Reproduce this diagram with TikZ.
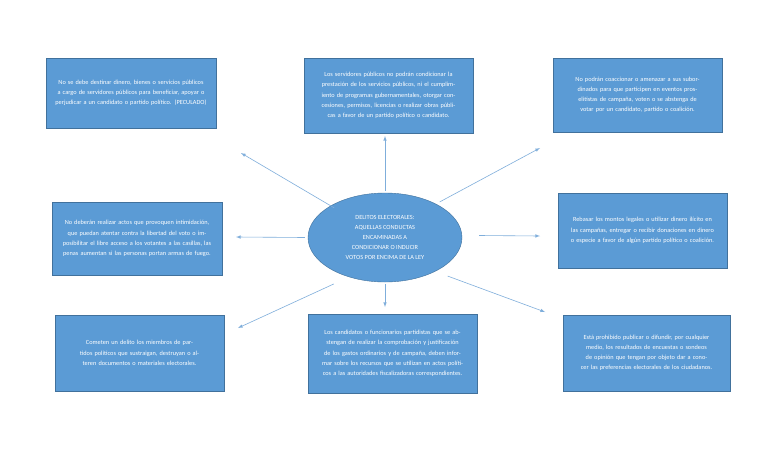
\documentclass[tikz,border=0pt]{standalone}
\usepackage{fontspec}
\setmainfont{Carlito}
\usetikzlibrary{shapes.geometric}
\definecolor{bfill}{HTML}{5B9BD5}
\definecolor{bdraw}{HTML}{41719C}
\definecolor{arr}{HTML}{7FAEDB}
\begin{document}
\begin{tikzpicture}[x=1pt,y=-1pt,
  box/.style={draw=bdraw,fill=bfill,text=white,align=center,inner sep=2pt,
    font=\fontsize{6.3}{10.2}\selectfont},
  con/.style={draw=arr,line width=0.6pt,-latex}]
\useasboundingbox[fill=white] (0,0) rectangle (768,466);
\node[box,minimum width=170,minimum height=70,text width=160] (b1) at (131,93) {No se debe destinar dinero, bienes o servicios públicos a cargo de servidores públicos para beneficiar, apoyar o perjudicar a un candidato o partido político. (PECULADO)};
\node[box,minimum width=169,minimum height=75,text width=160] (b2) at (388.5,95.5) {Los servidores públicos no podrán condicionar la prestación de los servicios públicos, ni el cumplimiento de programas gubernamentales, otorgar concesiones, permisos, licencias o realizar obras públicas a favor de un partido político o candidato.};
\node[box,minimum width=169,minimum height=74,text width=150] (b3) at (637.5,95) {No podrán coaccionar o amenazar a sus subordinados para que participen en eventos proselitistas de campaña, voten o se abstenga de votar por un candidato, partido o coalición.};
\node[box,minimum width=170,minimum height=73,text width=160] (b4) at (137,238.5) {No deberán realizar actos que provoquen intimidación, que puedan atentar contra la libertad del voto o imposibilitar el libre acceso a los votantes a las casillas, las penas aumentan si las personas portan armas de fuego.};
\node[draw=bdraw,fill=bfill,text=white,ellipse,minimum width=154,minimum height=89,inner sep=0pt,align=center,font=\fontsize{6.3}{10.2}\selectfont] (c) at (385,237.5) {DELITOS ELECTORALES:\\AQUELLAS CONDUCTAS\\ENCAMINADAS A\\CONDICIONAR O INDUCIR\\VOTOS POR ENCIMA DE LA LEY};
\node[box,minimum width=169,minimum height=75,text width=150] (b5) at (642.5,230.5) {Rebasar los montos legales o utilizar dinero ilícito en las campañas, entregar o recibir donaciones en dinero o especie a favor de algún partido político o coalición.};
\node[box,minimum width=169,minimum height=76,text width=155] (b6) at (139.5,353) {Cometen un delito los miembros de partidos políticos que sustraigan, destruyan o alteren documentos o materiales electorales.};
\node[box,minimum width=169,minimum height=79,text width=162] (b7) at (392.5,353.5) {Los candidatos o funcionarios partidistas que se abstengan de realizar la comprobación y justificación de los gastos ordinarios y de campaña, deben informar sobre los recursos que se utilizan en actos políticos a las autoridades fiscalizadoras correspondientes.};
\node[box,minimum width=167,minimum height=76,text width=155] (b8) at (646.5,353) {Está prohibido publicar o difundir, por cualquier medio, los resultados de encuestas o sondeos de opinión que tengan por objeto dar a conocer las preferencias electorales de los ciudadanos.};
\coordinate (e1) at (241,153);
\coordinate (e2) at (385,136);
\coordinate (e3) at (540,148);
\coordinate (e4) at (236,237);
\coordinate (e5) at (540,236);
\coordinate (e6) at (238,328);
\coordinate (e7) at (385,307);
\coordinate (e8) at (545,312);
\draw[con] (c.150) ++(4,2) -- (e1);
\draw[con] (c.north) ++(0,-2) -- (e2);
\draw[con] (c.30) ++(0,-4) -- (e3);
\draw[con] (c.west) ++(-3,0) -- (e4);
\draw[con] (c.east) ++(17,-2) -- (e5);
\draw[con] (c.215) ++(-2,12) -- (e6);
\draw[con] (c.south) ++(0,2) -- (e7);
\draw[con] (c.330) ++(8,7) -- (e8);
\end{tikzpicture}
\end{document}
